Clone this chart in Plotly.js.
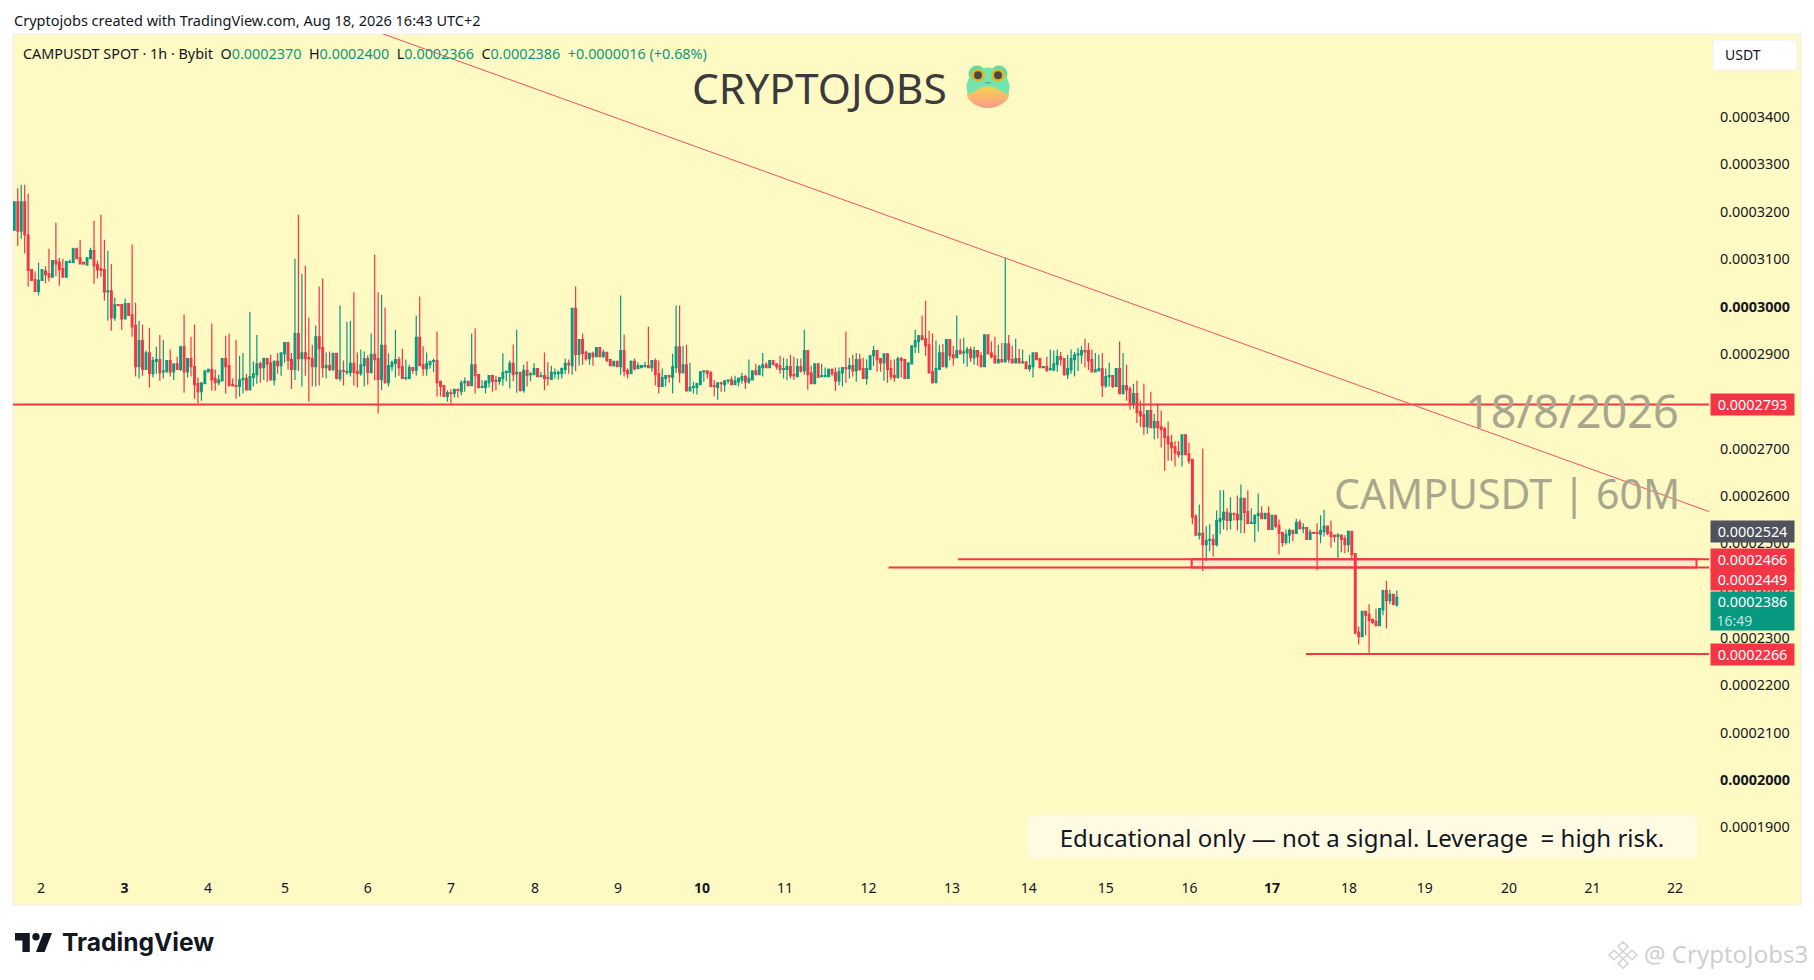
<!DOCTYPE html>
<html><head><meta charset="utf-8">
<script src="https://cdn.plot.ly/plotly-3.0.1.min.js"></script>
<style>html,body{margin:0;padding:0;background:#fff}#chart{width:1814px;height:980px}</style>
</head><body><div id="chart"></div>
<script>
// prices below are in units of 0.0000001 USDT
const PRICE_UNIT = 1e-7;
const opens = [
3161,3221,3159,3221,3151,3078,3057,3032,3055,3075,3069,3062,3097,3093,3080,3062,3093,3093,3122,3103,
3093,3088,3101,3118,3088,3080,3078,3031,3033,2976,3004,3004,2974,3006,2983,2960,2873,2928,2867,2902,
2858,2884,2888,2862,2862,2886,2862,2879,2867,2915,2862,2890,2873,2837,2820,2837,2862,2867,2848,2839,
2843,2890,2875,2835,2833,2831,2845,2848,2824,2850,2856,2879,2871,2890,2881,2845,2884,2875,2900,2924,
2888,2867,2943,2890,2902,2892,2890,2873,2936,
2913,2871,2875,2867,2901,2848,2865,2861,2861,2880,2863,2858,2875,2890,2861,2899,2890,2846,2918,2839,
2873,2880,2888,2873,2848,2848,2871,2865,2935,2877,2869,2877,2884,2886,2842,2833,2810,2818,2816,2825,
2820,2839,2842,2833,2877,2856,2829,2829,2839,2854,2844,2842,2848,2861,2861,2880,2858,2861,2823,2865,
2856,2856,2869,2852,2854,2850,2846,2858,2858,2858,2867,2880,2875,2996,2899,2930,2903,2890,2901,2894,
2913,2894,2903,2888,2875,2884,2873,2907,2865,2858,2884,2869,
2871,2873,2875,2871,2886,2858,2831,2848,2854,2850,2871,2915,2860,2877,2822,2829,2829,2835,2862,2864,
2860,2833,2829,2839,2835,2843,2845,2835,2841,2845,2852,2841,2845,2864,2856,2871,2877,2871,2886,2879,
2875,2867,2867,2873,2856,2852,2873,2864,2907,2860,2837,2879,2852,2852,2852,2867,2860,2843,2860,2871,
2869,2875,2864,2888,2869,2848,2867,2896,2907,2890,2881,2900,2869,2854,2850,2890,2888,2848,2879,2915,
2926,2938,2932,2919,2862,2839,2867,2902,2873,2930,2898,2892,2907,
2902,2902,2909,2892,2907,2896,2873,2940,2902,2896,2881,2888,2883,2921,2888,2881,2890,2881,2883,2869,
2873,2902,2890,2871,2873,2866,2866,2877,2894,2890,2856,2866,2888,2898,2898,2907,2907,2888,2862,2864,
2869,2833,2852,2854,2831,2869,2816,2833,2826,2795,2816,2778,2771,2746,2780,2744,2757,2746,2742,2725,
2712,2704,2693,2687,2729,2689,
2677,2557,2517,2521,2497,2506,2508,2497,2546,2550,2565,2548,2563,2561,2550,2595,2567,2542,2542,2559,
2563,2552,2563,2529,2559,2538,2523,2502,2517,2527,2521,2544,2531,2533,2508,2523,2523,2519,2525,2536,
2523,2517,2514,2517,2510,2497,2525,2478,2312,2303,2356,2350,2339,2335,2326,2360,2400,2379,2392,2370];
const highs = [
3221,3250,3257,3257,3238,3078,3074,3093,3078,3085,3122,3097,3177,3103,3101,3095,3099,3124,3124,3141,
3093,3103,3124,3181,3097,3194,3141,3118,3090,3019,3004,3004,3017,3006,3131,3008,2970,2962,2907,2955,
2894,2915,2940,2930,2886,2909,2879,2894,2917,2983,2890,2936,2962,2850,2839,2864,2867,2964,2867,2856,
2890,2938,2943,2848,2930,2896,2902,2858,2989,2884,2940,2884,2892,2890,2898,2886,2902,2902,2924,2924,
2902,3101,3194,3069,3086,2976,2919,2960,3042,
3059,2903,2905,2901,2901,3002,2886,2968,2970,3030,2903,2909,2905,2897,2943,3110,3030,3025,2998,2901,
2886,2951,2894,2911,2888,2877,2871,2981,3021,2916,2903,2884,2890,2947,2842,2835,2823,2825,2825,2825,
2844,2850,2842,2943,2954,2856,2844,2844,2854,2856,2854,2850,2901,2865,2886,2920,2951,2861,2877,2884,
2861,2880,2869,2861,2903,2882,2875,2869,2865,2871,2890,2888,2996,3042,2930,2943,2907,2901,2905,2913,
2913,2909,2903,2888,2884,2886,3023,2941,2869,2886,2890,2882,
2875,2883,2957,2886,2890,2886,2869,2854,2856,2900,3002,3002,2917,2919,2881,2841,2839,2862,2864,2864,
2864,2845,2839,2841,2843,2845,2852,2854,2850,2860,2856,2888,2864,2879,2877,2902,2883,2886,2886,2879,
2896,2892,2890,2898,2894,2890,2890,2951,2907,2875,2879,2879,2879,2871,2869,2869,2871,2871,2871,2947,
2892,2898,2902,2900,2892,2888,2898,2917,2907,2890,2900,2900,2888,2888,2894,2894,2888,2881,2917,2951,
2940,2981,3012,2949,2943,2928,2919,2921,2930,2930,2917,2981,2932,
2934,2915,2915,2915,2907,2904,2940,2940,2926,2936,2919,2923,3103,2940,2917,2932,2911,2909,2883,2898,
2902,2902,2890,2873,2894,2909,2907,2909,2904,2890,2898,2909,2904,2913,2917,2932,2923,2909,2902,2898,
2902,2869,2881,2854,2869,2926,2902,2877,2831,2837,2843,2801,2837,2780,2820,2773,2795,2780,2746,2757,
2729,2716,2716,2729,2729,2712,
2677,2561,2582,2700,2536,2540,2519,2569,2612,2612,2574,2597,2563,2601,2624,2595,2612,2574,2561,2605,
2578,2563,2578,2559,2559,2550,2523,2529,2531,2527,2552,2550,2542,2533,2529,2523,2542,2559,2571,2536,
2548,2517,2521,2517,2517,2527,2525,2478,2324,2356,2356,2371,2341,2362,2362,2402,2421,2402,2392,2400];
const lows = [
3161,3128,3143,3112,3042,3055,3032,3023,3055,3049,3053,3062,3064,3044,3062,3062,3093,3093,3101,3090,
3088,3086,3101,3048,3059,3063,3012,2970,2949,2970,3002,2951,2974,2981,2936,2852,2848,2854,2867,2829,
2850,2858,2843,2848,2862,2852,2845,2867,2864,2818,2850,2852,2805,2795,2801,2837,2862,2822,2822,2833,
2843,2816,2831,2831,2805,2810,2816,2824,2824,2831,2837,2839,2845,2841,2845,2833,2858,2854,2881,2867,
2826,2845,2864,2831,2854,2799,2831,2831,2833,
2850,2848,2863,2863,2846,2842,2833,2856,2852,2833,2829,2854,2831,2835,2858,2844,2774,2823,2837,2831,
2863,2850,2854,2848,2844,2848,2858,2854,2875,2854,2854,2869,2861,2810,2810,2810,2799,2795,2808,2808,
2812,2820,2831,2833,2816,2827,2827,2816,2829,2820,2823,2835,2833,2842,2827,2842,2818,2820,2818,2831,
2842,2856,2852,2852,2823,2833,2846,2848,2846,2848,2858,2858,2856,2863,2875,2877,2886,2877,2875,2894,
2894,2892,2882,2875,2873,2873,2856,2852,2848,2858,2865,2869,
2871,2871,2871,2862,2833,2816,2831,2831,2839,2816,2860,2839,2860,2822,2822,2816,2814,2835,2841,2848,
2831,2810,2803,2820,2820,2837,2835,2835,2831,2837,2826,2837,2845,2856,2856,2852,2871,2871,2877,2867,
2858,2848,2845,2848,2845,2852,2860,2856,2824,2837,2837,2850,2852,2852,2852,2852,2822,2833,2831,2839,
2848,2852,2841,2864,2848,2835,2867,2875,2862,2862,2843,2839,2845,2841,2848,2850,2848,2848,2879,2902,
2902,2930,2896,2860,2837,2839,2867,2873,2869,2886,2875,2892,2900,
2879,2873,2883,2877,2875,2873,2873,2900,2890,2881,2881,2881,2883,2881,2881,2881,2881,2881,2869,2862,
2850,2888,2871,2871,2864,2866,2864,2862,2875,2854,2847,2858,2852,2864,2879,2871,2866,2862,2862,2864,
2809,2828,2831,2828,2831,2816,2816,2801,2782,2784,2754,2746,2729,2731,2744,2719,2721,2702,2653,2674,
2674,2662,2681,2662,2687,2668,
2540,2517,2508,2441,2462,2483,2472,2493,2519,2529,2527,2529,2548,2527,2521,2521,2542,2542,2502,2525,
2552,2552,2529,2529,2531,2476,2493,2497,2500,2504,2521,2529,2521,2508,2508,2521,2443,2500,2514,2517,
2491,2502,2468,2481,2479,2481,2464,2310,2286,2303,2305,2269,2329,2326,2326,2348,2320,2371,2369,2366];
const closes = [
3221,3159,3221,3151,3076,3055,3032,3055,3078,3067,3062,3097,3090,3078,3062,3095,3095,3122,3101,3090,
3090,3103,3118,3086,3078,3076,3031,3033,2976,3004,3002,2974,3006,2981,2957,2873,2928,2867,2902,2858,
2886,2888,2860,2864,2886,2862,2879,2867,2915,2862,2890,2873,2835,2820,2839,2864,2867,2845,2839,2845,
2890,2873,2833,2833,2831,2845,2848,2824,2852,2858,2879,2871,2890,2879,2845,2884,2875,2902,2924,2886,
2867,2943,2890,2902,2890,2890,2873,2936,2911,
2871,2875,2867,2901,2848,2865,2863,2863,2880,2861,2858,2877,2890,2861,2899,2888,2846,2918,2839,2875,
2882,2888,2871,2848,2850,2871,2865,2935,2875,2869,2880,2884,2886,2839,2831,2810,2818,2816,2825,2823,
2839,2842,2833,2877,2854,2829,2831,2842,2854,2842,2842,2850,2861,2863,2880,2856,2861,2823,2865,2854,
2858,2869,2852,2854,2848,2848,2861,2861,2861,2869,2880,2877,2996,2899,2930,2901,2890,2901,2894,2913,
2894,2903,2886,2875,2884,2873,2907,2863,2858,2884,2869,2875,
2875,2875,2871,2886,2856,2831,2850,2854,2852,2873,2915,2860,2877,2822,2829,2831,2837,2862,2864,2858,
2831,2831,2839,2837,2843,2845,2835,2843,2848,2852,2841,2848,2864,2856,2873,2877,2871,2886,2877,2873,
2867,2869,2873,2854,2854,2873,2864,2907,2856,2837,2879,2850,2854,2854,2867,2858,2843,2862,2871,2869,
2875,2864,2888,2867,2848,2869,2896,2907,2888,2881,2900,2867,2852,2850,2890,2886,2848,2881,2917,2928,
2938,2930,2917,2860,2839,2869,2902,2873,2930,2896,2892,2907,2900,
2904,2909,2892,2907,2894,2873,2940,2900,2894,2881,2888,2883,2921,2888,2881,2890,2881,2883,2869,2875,
2902,2888,2871,2873,2864,2869,2879,2894,2888,2856,2869,2890,2898,2900,2907,2904,2885,2862,2866,2869,
2833,2852,2854,2831,2869,2816,2833,2824,2795,2816,2776,2769,2746,2780,2744,2757,2744,2740,2723,2710,
2702,2691,2687,2729,2687,2674,
2555,2517,2521,2497,2506,2508,2497,2548,2552,2565,2548,2563,2561,2550,2595,2565,2542,2544,2559,2563,
2552,2563,2529,2559,2536,2521,2502,2519,2527,2521,2544,2531,2533,2508,2523,2521,2521,2527,2536,2521,
2514,2514,2517,2508,2497,2525,2476,2310,2303,2356,2348,2337,2333,2326,2362,2400,2379,2392,2371,2386];

const dayLabels = ['2','<b>3</b>','4','5','6','7','8','9','<b>10</b>','11','12','13','14','15','16','<b>17</b>','18','19','20','21','22'];
const dayBars = [7.7,31.8,55.9,78.1,102,126,150.3,174.2,198.5,222.4,246.5,270.6,292.8,315,339.2,363,385.2,407.1,431.4,455.5,479.3];
const priceTicks = [1900,2000,2100,2200,2300,2400,2500,2600,2700,2800,2900,3000,3100,3200,3300,3400];
const boldTicks = [2000,3000];
const trendBars = [106.1,489.1];
const trendPrices = [3576.5,2567];
const supportPrice = 2793, zoneTop = 2466, zoneBottom = 2449, lowPrice = 2266;
const axisLabels = [
  {p:2793,bg:'#F23645',shift:0},{p:2524,bg:'#50535E',shift:0},{p:2466,bg:'#F23645',shift:0},
  {p:2449,bg:'#F23645',shift:-12.5},{p:2266,bg:'#F23645',shift:0}];

const UP='#089981', DOWN='#F23645', PANE='#FFF9C4';
const L=13,R=1709,T=34,B=905,W=1814,H=980;
const px=x=>(x-L)/(R-L), py=y=>(B-y)/(B-T);
const P=v=>v*PRICE_UNIT, fmt=v=>P(v).toFixed(7);
const barIdx=opens.map((_,i)=>i);

const trace={type:'candlestick',x:barIdx,open:opens.map(P),high:highs.map(P),low:lows.map(P),close:closes.map(P),
  increasing:{line:{color:UP,width:1.2},fillcolor:UP},decreasing:{line:{color:DOWN,width:1.2},fillcolor:DOWN},
  whiskerwidth:0,width:0.6,hoverinfo:'skip',showlegend:false};

const hline=(x0,x1,p,w)=>({type:'line',xref:'x',yref:'y',x0,x1,y0:P(p),y1:P(p),line:{color:DOWN,width:w}});
const endBar=489.1;
const shapes=[
 {type:'rect',xref:'paper',yref:'paper',x0:px(13),x1:px(1801),y0:py(905),y1:py(34),fillcolor:PANE,line:{color:'#EDEDED',width:1},layer:'below'},
 {type:'rect',xref:'paper',yref:'paper',x0:px(1713),x1:px(1797),y0:py(70),y1:py(40),fillcolor:'#FFFFFF',line:{color:'#F0F0F0',width:1},layer:'below'},
 {type:'rect',xref:'x',yref:'y',x0:339.8,x1:485.5,y0:P(zoneBottom),y1:P(zoneTop),fillcolor:'#FCEDCB',line:{width:0},layer:'below'},
 hline(-0.4,endBar,supportPrice,2),
 hline(272.4,endBar,zoneTop,2),
 hline(252.3,endBar,zoneBottom,2),
 hline(372.8,endBar,lowPrice,2),
 {type:'rect',xref:'x',yref:'y',x0:339.8,x1:485.5,y0:P(zoneBottom),y1:P(zoneTop),line:{color:DOWN,width:2}},
 {type:'line',xref:'x',yref:'y',x0:trendBars[0],x1:trendBars[1],y0:P(trendPrices[0]),y1:P(trendPrices[1]),line:{color:'#F4515E',width:1}}
];

const text=(t,x,y,size,color,anchor,extra)=>Object.assign({text:t,xref:'paper',yref:'paper',x:px(x),y:py(y),xanchor:anchor||'left',yanchor:'middle',
  showarrow:false,font:{family:'"Noto Sans",sans-serif',size,color}},extra||{});
const G=s=>`<span style="color:${UP}">${s}</span>`;
const annotations=[
 text('Cryptojobs created with TradingView.com, Aug 18, 2026 16:43 UTC+2',12,20,14.5,'#131722'),
 text('CAMPUSDT SPOT · 1h · Bybit \u00a0O'+G('0.0002370')+'\u00a0 H'+G('0.0002400')+'\u00a0 L'+G('0.0002366')+'\u00a0 C'+G('0.0002386')+'\u00a0 '+G('+0.0000016 (+0.68%)'),21,53,14.4,'#131722'),
 text('CRYPTOJOBS',690,87,42.5,'#3B3B3B'),
 text('18/8/2026',1681,410,45,'#A9A68E','right'),
 text('CAMPUSDT | 60M',1682,493,41,'#A9A68E','right'),
 text('Educational only — not a signal. Leverage \u00a0= high risk.',1362,837,24,'#131722','center',{bgcolor:'#FFFBE3',width:666,height:40,borderpad:1}),
 text('USDT',1723,54,14,'#131722'),
 text('@ CryptoJobs3',1642,954,24,'#CFCFCF'),
 text('<b>TradingView</b>',60,942,25,'#131722','left',{font:{family:'Inter,sans-serif',size:24.6,color:'#131722'}})
];
axisLabels.forEach(a=>annotations.push({xref:'paper',yref:'y',x:px(1710),y:P(a.p),yshift:a.shift,xanchor:'left',yanchor:'middle',showarrow:false,
  text:fmt(a.p),bgcolor:a.bg,width:83,height:21,borderpad:0,align:'center',font:{family:'"Noto Sans",sans-serif',size:14.4,color:'#FFFFFF'}}));
annotations.push({xref:'paper',yref:'paper',x:px(1710),y:py(611),xanchor:'left',yanchor:'middle',showarrow:false,
  text:fmt(closes[closes.length-1])+'<br><span style="font-size:14px;color:#BFE6DC">16:49'+'\u00a0'.repeat(10)+'</span>',bgcolor:UP,width:83,height:38,borderpad:0,align:'center',font:{family:'"Noto Sans",sans-serif',size:14.4,color:'#FFFFFF'}});

const svg=s=>'data:image/svg+xml;utf8,'+encodeURIComponent(s);
const frog=svg(`<svg xmlns="http://www.w3.org/2000/svg" viewBox="0 0 44 44"><defs><linearGradient id="g" x1="0" y1="0" x2="0" y2="1"><stop offset="0" stop-color="#F8D44C"/><stop offset="1" stop-color="#F99A8E"/></linearGradient></defs>
<circle cx="11" cy="9" r="8.500" fill="#67D9A0"/><circle cx="33" cy="9" r="8.500" fill="#67D9A0"/><ellipse cx="22" cy="23" rx="21.500" ry="20.500" fill="#74E5AC"/>
<path d="M0.6 30 C8 29 13 22 22 22 C31 22 36 29 43.4 30 C42 38 32 44 22 44 C12 44 2 38 0.6 30Z" fill="url(#g)"/>
<circle cx="12" cy="10.500" r="6.500" fill="#E8B21F"/><circle cx="32" cy="10.500" r="6.500" fill="#E8B21F"/><circle cx="12" cy="10.500" r="4" fill="#4A4848"/><circle cx="32" cy="10.500" r="4" fill="#4A4848"/>
<circle cx="20" cy="18" r="0.700" fill="#3A6B55"/><circle cx="22" cy="18.500" r="0.700" fill="#3A6B55"/><circle cx="24" cy="18" r="0.700" fill="#3A6B55"/></svg>`);
const logo=svg(`<svg xmlns="http://www.w3.org/2000/svg" viewBox="2 6 30 15"><path fill="#131722" d="M14 6H2v6h6v9h6V6Zm12 15h-7l6-15h7l-6 15Zm-7-9a3 3 0 1 0 0-6 3 3 0 0 0 0 6Z"/></svg>`);
const dia=svg(`<svg xmlns="http://www.w3.org/2000/svg" viewBox="0 0 32 32" fill="none" stroke="#D4D4D4" stroke-width="1.600"><path d="M16 2l5 5-5 5-5-5zM16 20l5 5-5 5-5-5zM7 11l5 5-5 5-5-5zM25 11l5 5-5 5-5-5z"/><path d="M16 12l4 4-4 4-4-4z"/></svg>`);
const img=(source,x0,y0,x1,y1)=>({source,xref:'paper',yref:'paper',x:px(x0),y:py(y0),sizex:(x1-x0)/(R-L),sizey:(y1-y0)/(B-T),xanchor:'left',yanchor:'top',sizing:'stretch',layer:'above'});

const layout={width:W,height:H,margin:{l:L,r:W-R,t:T,b:H-B,pad:0},paper_bgcolor:'#FFFFFF',plot_bgcolor:PANE,showlegend:false,
 xaxis:{type:'linear',range:[-0.375,489.1],rangeslider:{visible:false},showgrid:false,zeroline:false,showline:false,ticks:'',
   tickmode:'array',tickvals:dayBars,ticktext:dayLabels,ticklabelposition:'inside',ticklabelstandoff:6,tickfont:{family:'"Noto Sans",sans-serif',size:14,color:'#131722'}},
 yaxis:{type:'linear',side:'right',range:[P(1736),P(3575.5)],showgrid:false,zeroline:false,showline:false,ticks:'',ticklabelstandoff:10,
   tickmode:'array',tickvals:priceTicks.map(P),ticktext:priceTicks.map(v=>boldTicks.includes(v)?'<b>'+fmt(v)+'</b>':fmt(v)),
   tickfont:{family:'"Noto Sans",sans-serif',size:14.4,color:'#131722'}},
 shapes,annotations,
 images:[img(frog,966,65,1010,108),img(logo,15,933,52,952),img(dia,1607,940,1639,970)]};
Plotly.newPlot('chart',[trace],layout,{staticPlot:true,displayModeBar:false});
</script></body></html>
